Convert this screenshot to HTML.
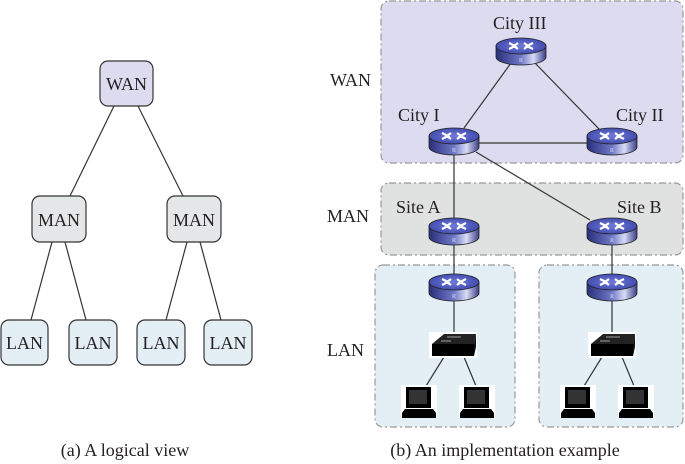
<!DOCTYPE html>
<html><head><meta charset="utf-8"><style>
html,body{margin:0;padding:0;background:#fff;}
svg{display:block;}
text{font-family:"Liberation Serif",serif;fill:#231f20;}
</style></head><body>
<svg width="685" height="464" viewBox="0 0 685 464" xmlns="http://www.w3.org/2000/svg">
<defs>
<linearGradient id="rb" x1="0" x2="1" y1="0" y2="0">
<stop offset="0" stop-color="#2a2f7a"/><stop offset="0.5" stop-color="#6f78c8"/><stop offset="0.75" stop-color="#d8dcf5"/><stop offset="1" stop-color="#3a3f8a"/>
</linearGradient>
<radialGradient id="rt" cx="0.5" cy="0.5" r="0.6">
<stop offset="0" stop-color="#6f7bd8"/><stop offset="1" stop-color="#3b44a8"/>
</radialGradient>
<g id="router">
<path d="M-25,0 L-25,11 A25,8 0 0 0 25,11 L25,0 Z" fill="url(#rb)" stroke="#222" stroke-width="0.8"/>
<ellipse cx="0" cy="0" rx="25" ry="8" fill="url(#rt)" stroke="#222" stroke-width="0.8"/>
<path d="M-12,-3 l6,3 l-6,3 M-3,-3 l-4,3 l4,3 M12,-3 l-6,3 l6,3 M3,-3 l4,3 l-4,3" stroke="#fff" stroke-width="2.2" fill="none"/>
<text x="0" y="16" font-size="6" text-anchor="middle" style="fill:#ddd">R</text>
</g>
<g id="switch">
<rect x="-24" y="-13" width="48" height="26" fill="#fff"/>
<path d="M-21,-1 L-9,-11 L23,-11 L21,-1 Z" fill="#222"/>
<rect x="-21" y="-1" width="42" height="12" fill="#000"/>
<path d="M21,-1 L23,-11 L23,2 L21,11 Z" fill="#111"/>
<path d="M-6,-8 h14 M-2,-4 h-10" stroke="#ccc" stroke-width="0.8"/>
</g>
<g id="pc">
<rect x="-18" y="-16" width="36" height="33" fill="#fff"/>
<rect x="-13" y="-14" width="25" height="21" fill="#000"/>
<rect x="-10" y="-11" width="18" height="14" fill="#333"/>
<path d="M-14,8 L14,8 L17,12 L-17,12 Z" fill="#000"/>
<rect x="-17" y="12" width="34" height="5" fill="#000"/>
</g>
</defs>

<g stroke="#333" stroke-width="1.2">
<line x1="114" y1="106" x2="70" y2="196"/>
<line x1="138" y1="106" x2="183" y2="196"/>
<line x1="52" y1="242" x2="31" y2="320"/>
<line x1="65" y1="242" x2="86" y2="320"/>
<line x1="187" y1="242" x2="166" y2="320"/>
<line x1="200" y1="242" x2="221" y2="320"/>
</g>
<g stroke="#333" stroke-width="1.2">
<rect x="100" y="61" width="53" height="45" rx="8" fill="#dcdbef"/>
<rect x="32" y="196" width="54" height="46" rx="8" fill="#e5e6e7"/>
<rect x="167" y="196" width="54" height="46" rx="8" fill="#e5e6e7"/>
<rect x="1" y="320" width="47" height="45" rx="8" fill="#e3eef5"/>
<rect x="69" y="320" width="48" height="45" rx="8" fill="#e3eef5"/>
<rect x="137" y="320" width="48" height="45" rx="8" fill="#e3eef5"/>
<rect x="204" y="320" width="48" height="45" rx="8" fill="#e3eef5"/>
</g>
<g font-size="18" text-anchor="middle">
<text x="126.5" y="90">WAN</text>
<text x="59" y="226">MAN</text>
<text x="194" y="226">MAN</text>
<text x="24.5" y="349">LAN</text>
<text x="93" y="349">LAN</text>
<text x="161" y="349">LAN</text>
<text x="228" y="349">LAN</text>
</g>

<g stroke="#999" stroke-width="1.2" stroke-dasharray="7,3,2,3">
<rect x="381" y="1" width="302" height="162" rx="8" fill="#dcdbef"/>
<rect x="381" y="183" width="302" height="72" rx="8" fill="#e0e1e1"/>
<rect x="375" y="265" width="140" height="162" rx="8" fill="#e3eef5"/>
<rect x="539" y="265" width="144" height="162" rx="8" fill="#e3eef5"/>
</g>
<g stroke="#333" stroke-width="1.2">
<line x1="511" y1="63" x2="464" y2="128"/>
<line x1="535" y1="63" x2="600" y2="130"/>
<line x1="478" y1="143" x2="588" y2="143"/>
<line x1="454" y1="150" x2="454" y2="226"/>
<line x1="476" y1="152" x2="590" y2="220"/>
<line x1="454" y1="240" x2="454" y2="282"/>
<line x1="612" y1="240" x2="612" y2="282"/>
<line x1="454" y1="298" x2="454" y2="333"/>
<line x1="612" y1="298" x2="612" y2="333"/>
<line x1="444" y1="357" x2="426" y2="386"/>
<line x1="464" y1="357" x2="476" y2="386"/>
<line x1="602" y1="357" x2="584" y2="386"/>
<line x1="622" y1="357" x2="634" y2="386"/>
</g>
<use href="#router" x="521" y="46"/>
<use href="#router" x="454" y="136"/>
<use href="#router" x="612" y="136"/>
<use href="#router" x="454" y="226"/>
<use href="#router" x="612" y="226"/>
<use href="#router" x="454" y="282"/>
<use href="#router" x="612" y="282"/>
<use href="#switch" x="453" y="345"/>
<use href="#switch" x="612" y="345"/>
<use href="#pc" x="419" y="401"/>
<use href="#pc" x="477" y="401"/>
<use href="#pc" x="578" y="401"/>
<use href="#pc" x="636" y="401"/>

<g font-size="18">
<text x="493" y="29">City III</text>
<text x="398" y="121">City I</text>
<text x="616" y="121">City II</text>
<text x="396" y="213">Site A</text>
<text x="617" y="213">Site B</text>
<text x="330" y="86">WAN</text>
<text x="327" y="222">MAN</text>
<text x="327" y="356">LAN</text>
<text x="125" y="456" text-anchor="middle">(a) A logical view</text>
<text x="505" y="456" text-anchor="middle">(b) An implementation example</text>
</g>
</svg>
</body></html>
